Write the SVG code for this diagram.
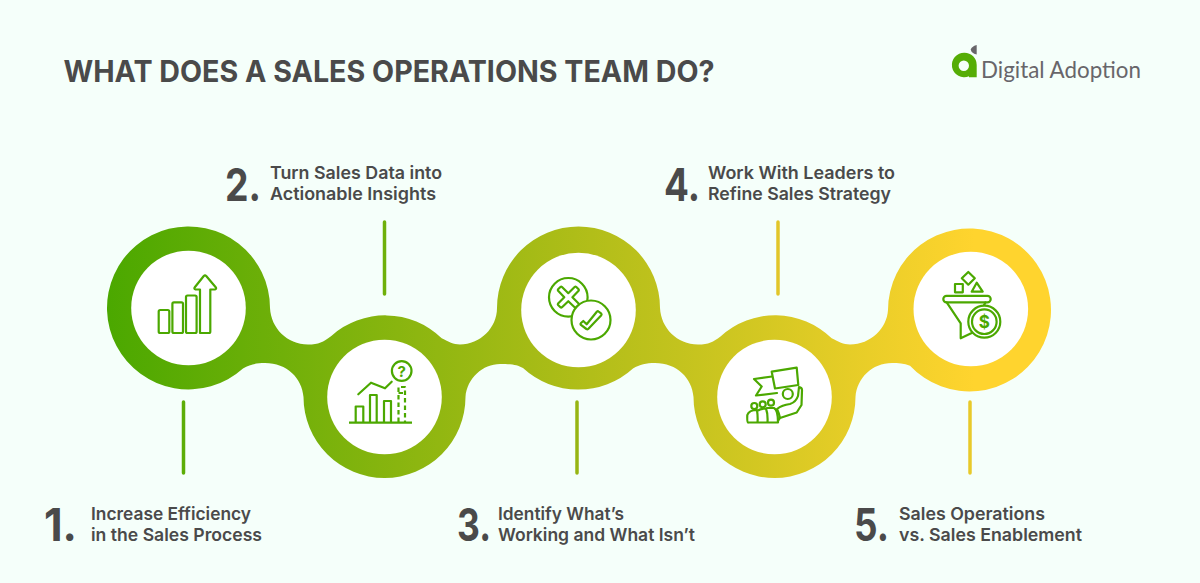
<svg xmlns="http://www.w3.org/2000/svg" width="1200" height="583" viewBox="0 0 1200 583">
<style>
text{font-family:"Inter","Liberation Sans",sans-serif;fill:#4a4a4a}
.title{font-size:29.5px;font-weight:700}
.num{font-size:45px;font-weight:700}
.lab{font-size:17.5px;font-weight:600}
.logo{font-family:"Lato","Liberation Sans",sans-serif;font-size:24px;font-weight:400;fill:#68666a}
.ring{fill:#fff}
.ic{fill:none;stroke:#4ba800;stroke-width:2.2;stroke-linejoin:round;stroke-linecap:round}
.icw{fill:#fff;stroke:#4ba800;stroke-width:2.2;stroke-linejoin:round}
.gl{font-weight:700;fill:#4ba800;text-anchor:middle}
.conn{stroke-width:3.5;stroke-linecap:round;fill:none}
</style>
<defs>
<linearGradient id="band" gradientUnits="userSpaceOnUse" x1="107" y1="0" x2="1040" y2="0">
<stop offset="0" stop-color="#4ba800"/>
<stop offset="0.5" stop-color="#aebd18"/>
<stop offset="0.93" stop-color="#ffd42e"/>
</linearGradient>
</defs>
<rect width="1200" height="583" fill="#f5fffa"/>
<text class="title" x="63.5" y="82" textLength="651" lengthAdjust="spacingAndGlyphs">WHAT DOES A SALES OPERATIONS TEAM DO?</text>
<g id="logo">
<path d="M976.7,45 V54.5 Q971,53 970.8,49.5 Q971.5,46.5 976.7,45 Z" fill="#68666a"/>
<path fill-rule="evenodd" fill="#55ad05" d="M964.5,52.7 A12.2,12.2 0 0 1 976.7,65 V77.3 H969 V76.3 A12.3,12.3 0 1 1 964.5,52.7 Z M963.8,60.5 A5.2,5.2 0 1 0 963.8,70.9 A5.2,5.2 0 1 0 963.8,60.5 Z"/>
<text class="logo" x="981" y="78" textLength="160" lengthAdjust="spacingAndGlyphs">Digital Adoption</text>
</g>
<g id="band">
<path fill="url(#band)" d="M270,308 C271,328 287,344.5 308,344.5 C319,344.5 323,342 331,336.2 A81,81 0 0 1 441.7,338.3 C449,342 453,344.5 460,344.5 C480,344.5 497,328 497,308 A81.5,81.5 0 0 1 660,308 C661,328 677,344.5 698,344.5 C709,344.5 713,342 720.5,336.5 A81,81 0 0 1 831.7,338.3 C839,342 843,344.5 850,344.5 C871,344.5 887,328 888,310 A81.5,81.5 0 1 1 910,365.7 C904,363.5 898,363 892,363 C872,363 857,378 855.5,397 A81,81 0 0 1 693.5,397 C692,378 677,363 655,363 C646,363 640,364.5 633,368.5 A81.5,81.5 0 0 1 523,368 C517,364.5 512,364 500,364 C483,364 467,378 465.5,397 A81,81 0 0 1 303.5,397 C302,378 287,363 265,363 C256,363 250,364.5 243,368.5 A81.5,81.5 0 1 1 270,308 Z"/>
</g>
<g id="connectors">
<line class="conn" stroke="#5cad06" x1="183.5" y1="402" x2="183.5" y2="473"/>
<line class="conn" stroke="#6fb00a" x1="384.5" y1="222" x2="384.5" y2="294"/>
<line class="conn" stroke="#96b512" x1="577" y1="402" x2="577" y2="473"/>
<line class="conn" stroke="#e2c629" x1="778" y1="222" x2="778" y2="294"/>
<line class="conn" stroke="#e8ca2a" x1="970" y1="402" x2="970" y2="473"/>
</g>
<g id="node1">
<circle class="ring" cx="188.5" cy="308" r="57.3"/>
<g class="ic">
<rect x="158.7" y="310" width="10.6" height="23" rx="1.5"/>
<rect x="172.4" y="302.3" width="10.6" height="30.7" rx="1.5"/>
<rect x="186" y="295.5" width="10.6" height="37.5" rx="1.5"/>
<path d="M200,333 V289.5 H195.5 Q193.5,289 195,287 L203.8,276 Q205,274.8 206.2,276 L215.5,287 Q217,289 215,289.5 H210.3 V331.5 Q210.3,333 209,333 Z"/>
</g>
<text class="num" x="44" y="541" textLength="33" lengthAdjust="spacingAndGlyphs">1.</text>
<text class="lab" x="91" y="520" textLength="160" lengthAdjust="spacingAndGlyphs">Increase Efficiency</text>
<text class="lab" x="91" y="541" textLength="171" lengthAdjust="spacingAndGlyphs">in the Sales Process</text>
</g>
<g id="node2">
<circle class="ring" cx="384.5" cy="397" r="57.3"/>
<g class="ic">
<path d="M349,422.7 H412" stroke-linecap="butt"/>
<path d="M355.7,422 V406.5 H363.3 V422 M370,422 V395 H376.7 V422 M384,422 V401 H391 V422" stroke-linecap="butt"/>
<path d="M398.5,422 V387 H405 V422 M398.5,393 H405" stroke-dasharray="4.5 3" stroke-linecap="butt"/>
<path d="M358.3,394.3 L371,382.7 L385,388.3 L391.7,381.7"/>
<circle cx="401.7" cy="371" r="9.8"/>
</g>
<text class="gl" x="401.7" y="376.5" font-size="15">?</text>
<text class="num" x="225" y="201" textLength="36" lengthAdjust="spacingAndGlyphs">2.</text>
<text class="lab" x="270" y="179" textLength="172" lengthAdjust="spacingAndGlyphs">Turn Sales Data into</text>
<text class="lab" x="270" y="200" textLength="166" lengthAdjust="spacingAndGlyphs">Actionable Insights</text>
</g>
<g id="node3">
<circle class="ring" cx="578.5" cy="310" r="57.3"/>
<g class="ic">
<circle cx="568.3" cy="297.3" r="19.3"/>
<path d="M562,287 L568.3,293.2 L574.6,287 Q575.5,286.3 576.3,287 L578.6,289.3 Q579.2,290 578.6,290.8 L572.4,297.2 L578.6,303.5 Q579.2,304.2 578.6,305 L576.3,307.2 Q575.5,307.9 574.6,307.2 L568.3,301.2 L562,307.2 Q561.2,307.9 560.4,307.2 L558.1,305 Q557.5,304.2 558.1,303.5 L564.3,297.2 L558.1,290.8 Q557.5,290 558.1,289.3 L560.4,287 Q561.2,286.3 562,287 Z"/>
</g>
<circle class="icw" cx="591" cy="320" r="19.5"/>
<path class="ic" d="M581,323 L583.3,321 L586.7,324.3 L597,311.5 Q597.8,310.8 598.6,311.5 L601.3,313.7 Q601.9,314.4 601.3,315.2 L588.2,329 Q587.3,329.8 586.4,329 L580.6,324.6 Q580.2,323.8 581,323 Z"/>
<text class="num" x="457" y="541" textLength="34" lengthAdjust="spacingAndGlyphs">3.</text>
<text class="lab" x="498" y="520" textLength="126" lengthAdjust="spacingAndGlyphs">Identify What’s</text>
<text class="lab" x="498" y="541" textLength="197" lengthAdjust="spacingAndGlyphs">Working and What Isn’t</text>
</g>
<g id="node4">
<circle class="ring" cx="774.5" cy="397" r="57.3"/>
<g class="ic">
<path d="M772,376.5 L754,379 L761.7,386.5 L756,395.5 L777,393"/>
<path d="M771.7,371.7 L796.7,367.7 L798.3,385 L775,388.5 Z"/>
<circle cx="787.8" cy="394" r="5"/>
<circle cx="754.3" cy="406" r="3"/>
<circle cx="762.7" cy="404.3" r="3"/>
<circle cx="771" cy="402.7" r="3"/>
<path d="M748,422.5 H778 M748,422.5 Q747,422 747.3,415 Q749,410 757,410 Q758,417 757.5,422.5 M757,411 Q761,408.5 766,408.5 Q768,414 767.5,422.5 M767,408 H774 Q778,410 778,422.5"/>
<path d="M778,421 L780,418 L796.7,412.5 L801.5,405 L802,390 Q802,387.5 799,387 L798,396 Q796,402 790,404 Q782,405 777,409 Q779,413 780,418"/>
</g>
<text class="num" x="664" y="201" textLength="36" lengthAdjust="spacingAndGlyphs">4.</text>
<text class="lab" x="708" y="179" textLength="187" lengthAdjust="spacingAndGlyphs">Work With Leaders to</text>
<text class="lab" x="708" y="200" textLength="183" lengthAdjust="spacingAndGlyphs">Refine Sales Strategy</text>
</g>
<g id="node5">
<circle class="ring" cx="970.8" cy="309" r="57.3"/>
<g class="ic">
<path d="M968.3,272 L974.8,278.3 L968.3,284.7 L961.8,278.3 Z"/>
<rect x="955" y="284" width="7.8" height="8.3"/>
<path d="M971.7,291.7 L976.7,282.7 L982.7,291.7 Z"/>
<rect x="943.3" y="295.8" width="47.4" height="6.6" rx="3.3"/>
<path d="M946.7,302.4 L960.7,323.3 V338.3 L971.7,333 M985.5,302.4 L983,307"/>
</g>
<circle class="icw" cx="984.3" cy="321.7" r="16"/>
<circle class="ic" cx="984.3" cy="321.7" r="12.3"/>
<text class="gl" x="984.3" y="328" font-size="17">$</text>
<text class="num" x="854" y="541" textLength="35" lengthAdjust="spacingAndGlyphs">5.</text>
<text class="lab" x="899" y="520" textLength="146" lengthAdjust="spacingAndGlyphs">Sales Operations</text>
<text class="lab" x="899" y="541" textLength="183" lengthAdjust="spacingAndGlyphs">vs. Sales Enablement</text>
</g>
</svg>
